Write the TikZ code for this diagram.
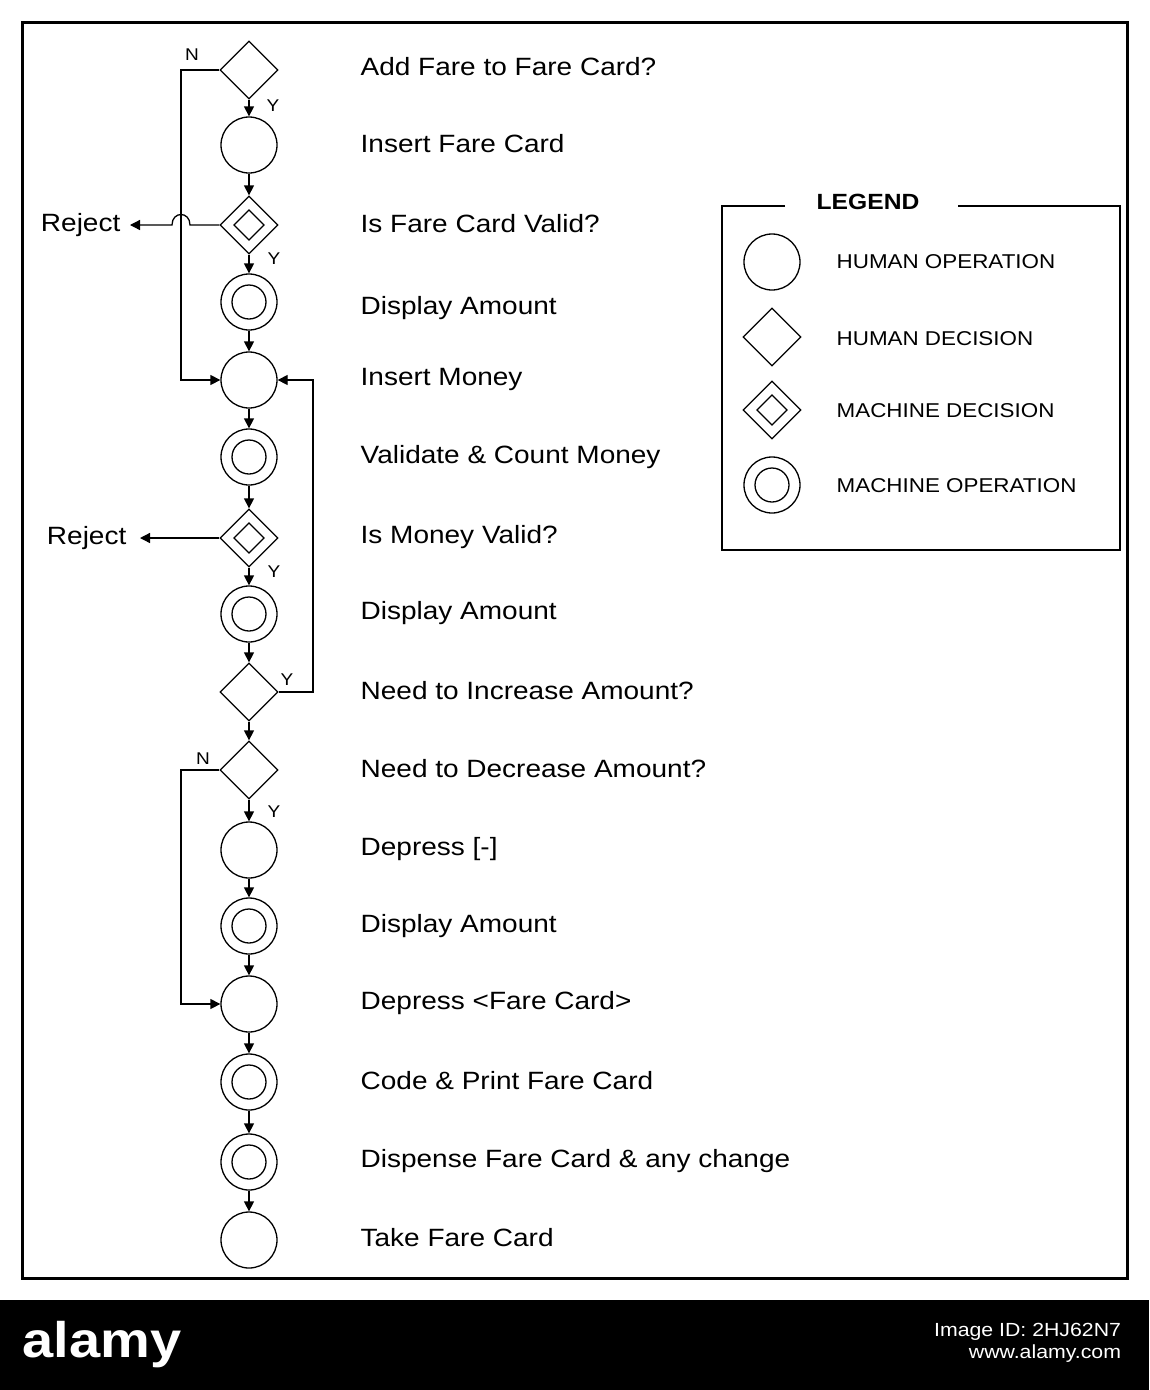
\documentclass[tikz,border=0pt]{standalone}
\usepackage{fontspec}
\setmainfont{Liberation Sans}[FakeStretch=1.12]
\usetikzlibrary{shapes.geometric,arrows.meta}
\begin{document}
\begin{tikzpicture}[x=1pt,y=-1pt,line width=1.3pt,
  hop/.style={circle,draw,inner sep=0,minimum size=56pt},
  hdec/.style={diamond,draw,inner sep=0,minimum size=58pt},
  mop/.style={hop,path picture={\draw (path picture bounding box.center) circle (17pt);}},
  mdec/.style={hdec,path picture={\draw ([yshift=15pt]path picture bounding box.center) -- ++(15pt,-15pt) -- ++(-15pt,-15pt) -- ++(-15pt,15pt) -- cycle;}},
  lbl/.style={anchor=west,font=\fontsize{25}{28}\selectfont,inner sep=0},
  leg/.style={anchor=west,font=\fontsize{20}{22}\selectfont,inner sep=0},
  yn/.style={font=\fontsize{17}{20}\selectfont,inner sep=0},
  arr/.style={-{Triangle[length=10pt,width=10pt]}}]
\useasboundingbox (0,0) rectangle (1149,1390);
\fill[white] (0,0) rectangle (1149,1300);
\draw[line width=3pt] (22,22) rectangle (1127,1278);
\fill[black] (0,1300) rectangle (1149,1390);
\node[text=white,font=\bfseries\fontsize{50}{54}\selectfont] (wm) at (102,1345) {alamy};
\node[text=white,anchor=east,font=\fontsize{19}{22}\selectfont,align=right] (wm2) at (1125,1343) {Image ID: 2HJ62N7\\www.alamy.com};
% nodes
\node[hdec] (n1) at (249,70) {};
\node[hop]  (n2) at (249,145) {};
\node[mdec] (n3) at (249,225) {};
\node[mop]  (n4) at (249,302) {};
\node[hop]  (n5) at (249,380) {};
\node[mop]  (n6) at (249,457) {};
\node[mdec] (n7) at (249,538) {};
\node[mop]  (n8) at (249,614) {};
\node[hdec] (n9) at (249,692) {};
\node[hdec] (n10) at (249,770) {};
\node[hop]  (n11) at (249,850) {};
\node[mop]  (n12) at (249,926) {};
\node[hop]  (n13) at (249,1004) {};
\node[mop]  (n14) at (249,1082) {};
\node[mop]  (n15) at (249,1162) {};
\node[hop]  (n16) at (249,1240) {};
\foreach \a/\b in {n1/n2,n2/n3,n3/n4,n4/n5,n5/n6,n6/n7,n7/n8,n8/n9,n9/n10,n10/n11,n11/n12,n12/n13,n13/n14,n14/n15,n15/n16}
  \draw[arr] (\a) -- (\b);
% labels
\node[lbl] (t1) at (360,67) {Add Fare to Fare Card?};
\node[lbl] (t2) at (360,144) {Insert Fare Card};
\node[lbl] (t3) at (360,224) {Is Fare Card Valid?};
\node[lbl] (t4) at (360,308) {Display Amount};
\node[lbl] (t5) at (360,379) {Insert Money};
\node[lbl] (t6) at (360,457) {Validate \& Count Money};
\node[lbl] (t7) at (360,537) {Is Money Valid?};
\node[lbl] (t8) at (360,613) {Display Amount};
\node[lbl] (t9) at (360,691) {Need to Increase Amount?};
\node[lbl] (t10) at (360,769) {Need to Decrease Amount?};
\node[lbl] (t11) at (360,849) {Depress [-]};
\node[lbl] (t12) at (360,926) {Display Amount};
\node[lbl] (t13) at (360,1003) {Depress <Fare Card>};
\node[lbl] (t14) at (360,1081) {Code \& Print Fare Card};
\node[lbl] (t15) at (360,1161) {Dispense Fare Card \& any change};
\node[lbl] (t16) at (360,1238) {Take Fare Card};
% loops
\coordinate (r1) at (130,225);
\coordinate (r2) at (140,538);
\node[lbl,anchor=east] (rj1) at (121,225) {Reject};
\node[lbl,anchor=east] (rj2) at (127,538) {Reject};
\draw[arr] (n1.west) -- (181,70) -- (181,380) -- (n5.west);
\draw[arr] (n3.west) -- (190,225) .. controls (190,211) and (172,211) .. (172,225) -- (r1);
\draw[arr] (n7.west) -- (r2);
\draw[arr] (n9.east) -- (313,692) -- (313,380) -- (n5.east);
\draw[arr] (n10.west) -- (181,770) -- (181,1004) -- (n13.west);
\node[yn] (N1) at (192,55) {N};
\node[yn] (Y1) at (273,106) {Y};
\node[yn] (Y3) at (274,259) {Y};
\node[yn] (Y7) at (274,572) {Y};
\node[yn] (Y9) at (287,680) {Y};
\node[yn] (N10) at (203,759) {N};
\node[yn] (Y10) at (274,812) {Y};
% legend
\draw (785,206) -- (722,206) -- (722,550) -- (1120,550) -- (1120,206) -- (958,206);
\node[font=\bfseries\fontsize{22}{26}\selectfont] (lt) at (868,202) {LEGEND};
\node[hop] (l1) at (772,262) {};
\node[hdec] (l2) at (772,337) {};
\node[mdec] (l3) at (772,410) {};
\node[mop] (l4) at (772,485) {};
\node[leg] (lt1) at (836,262) {HUMAN OPERATION};
\node[leg] (lt2) at (836,339) {HUMAN DECISION};
\node[leg] (lt3) at (836,411) {MACHINE DECISION};
\node[leg] (lt4) at (836,486) {MACHINE OPERATION};
\end{tikzpicture}
\end{document}
